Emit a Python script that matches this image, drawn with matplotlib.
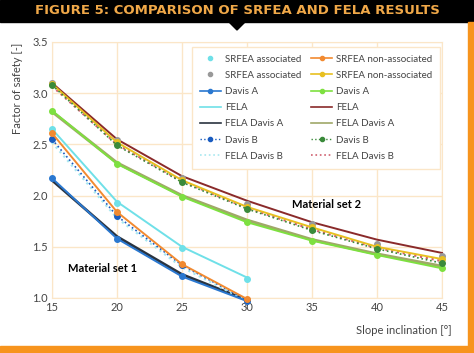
import matplotlib.pyplot as plt
from matplotlib.patches import Rectangle, Polygon
from matplotlib.lines import Line2D

plt.rcParams['font.family'] = ['Lato', 'DejaVu Sans']

# slope inclination [deg]
x1 = [15, 20, 25, 30]
x2 = [15, 20, 25, 30, 35, 40, 45]

# Material set 1
srfea_assoc_1 = [2.65, 1.93, 1.49, 1.19]
srfea_nonassoc_1 = [2.61, 1.84, 1.33, 0.99]
davisA_1 = [2.17, 1.58, 1.21, 0.97]
fela_1 = [2.65, 1.94, 1.50, 1.20]
fela_davisA_1 = [2.15, 1.60, 1.23, 0.98]
davisB_1 = [2.55, 1.80, 1.32, 0.98]
fela_davisB_1 = [2.52, 1.78, 1.30, 0.97]

# Material set 2
srfea_assoc_2 = [3.10, 2.54, 2.17, 1.92, 1.72, 1.53, 1.41]
srfea_nonassoc_2 = [3.09, 2.52, 2.15, 1.89, 1.69, 1.50, 1.38]
davisA_2 = [2.83, 2.31, 1.99, 1.74, 1.56, 1.42, 1.29]
fela_2 = [3.10, 2.55, 2.19, 1.95, 1.74, 1.57, 1.44]
fela_davisA_2 = [2.82, 2.32, 2.00, 1.76, 1.57, 1.43, 1.31]
davisB_2 = [3.08, 2.49, 2.13, 1.87, 1.66, 1.48, 1.34]
fela_davisB_2 = [3.07, 2.50, 2.14, 1.88, 1.67, 1.49, 1.36]

fig = plt.figure(figsize=(4.74, 3.53), dpi=100)
fig.patch.set_facecolor('white')

# header bar, triangle and orange frame
fig.patches.append(Rectangle((0, 1 - 22/353), 1, 22/353, transform=fig.transFigure,
                             color='black', zorder=0))
fig.patches.append(Polygon([(228/474, 1 - 21/353), (246/474, 1 - 21/353), (237/474, 1 - 30/353)],
                           closed=True, transform=fig.transFigure, color='black', zorder=0))
fig.patches.append(Rectangle((468/474, 0), 6/474, 1 - 22/353, transform=fig.transFigure,
                             color='#f7941d', zorder=0))
fig.patches.append(Rectangle((0, 0), 1, 7/353, transform=fig.transFigure,
                             color='#f7941d', zorder=0))
fig.text(237/474, 1 - 11/353, 'FIGURE 5: COMPARISON OF SRFEA AND FELA RESULTS',
         color='#f0a848', fontsize=9.5, fontweight='bold', ha='center', va='center',
         family=['DejaVu Sans'])

ax = fig.add_axes([52/474, 1 - 298/353, 390/474, 256/353])
ax.set_xlim(15, 45)
ax.set_ylim(1.0, 3.5)
ax.set_xticks(x2)
ax.set_yticks([1.0, 1.5, 2.0, 2.5, 3.0, 3.5])
ax.grid(True, color='#fbe6c8', lw=1)
for s in ax.spines.values():
    s.set_color('#fbe6c8')
ax.tick_params(length=0, labelsize=8, labelcolor='#444444', pad=3)

ms = 4
kw = dict(clip_on=False)
# set 1
ax.plot(x1, fela_davisA_1, color='#2a3440', lw=2.0, zorder=3, **kw)
ax.plot(x1, davisA_1, color='#2a78d0', lw=1.4, marker='o', ms=ms, zorder=4, **kw)
ax.plot(x1, fela_1, color='#6fe0e8', lw=1.4, zorder=3, **kw)
ax.plot(x1, srfea_assoc_1, color='#6fe0e8', lw=0, marker='o', ms=ms, zorder=4, **kw)
ax.plot(x1, fela_davisB_1, color='#a8e8f0', lw=1.6, ls=':', zorder=3, **kw)
ax.plot(x1, davisB_1, color='#1a5cc0', lw=1.2, ls=':', marker='o', ms=ms, zorder=4, **kw)
ax.plot(x1, srfea_nonassoc_1, color='#f28a30', lw=1.4, marker='o', ms=ms, zorder=4, **kw)
# set 2
ax.plot(x2, fela_davisA_2, color='#a0a868', lw=2.2, zorder=3, **kw)
ax.plot(x2, davisA_2, color='#7ee040', lw=1.4, marker='o', ms=ms, zorder=4, **kw)
ax.plot(x2, fela_2, color='#8a2a2a', lw=1.4, zorder=3, **kw)
ax.plot(x2, srfea_assoc_2, color='#999999', lw=0, marker='o', ms=ms, zorder=4, **kw)
ax.plot(x2, srfea_nonassoc_2, color='#e8c020', lw=1.4, marker='o', ms=ms, zorder=4, **kw)
ax.plot(x2, fela_davisB_2, color='#d06070', lw=1.6, ls=':', zorder=3, **kw)
ax.plot(x2, davisB_2, color='#3a8a3a', lw=1.2, ls=':', marker='o', ms=ms, zorder=4, **kw)

ax.text(16.2, 1.29, 'Material set 1', fontsize=8, fontweight='bold', va='center', zorder=6)
ax.text(33.5, 1.91, 'Material set 2', fontsize=8, fontweight='bold', va='center', zorder=6)

handles = [
    Line2D([], [], color='#6fe0e8', lw=0, marker='o', ms=3),
    Line2D([], [], color='#999999', lw=0, marker='o', ms=3),
    Line2D([], [], color='#2a78d0', lw=1.2, marker='o', ms=3),
    Line2D([], [], color='#6fe0e8', lw=1.2),
    Line2D([], [], color='#2a3440', lw=1.2),
    Line2D([], [], color='#1a5cc0', lw=1.0, ls=':', marker='o', ms=3),
    Line2D([], [], color='#a8e8f0', lw=1.2, ls=':'),
    Line2D([], [], color='#f28a30', lw=1.2, marker='o', ms=3),
    Line2D([], [], color='#e8c020', lw=1.2, marker='o', ms=3),
    Line2D([], [], color='#7ee040', lw=1.2, marker='o', ms=3),
    Line2D([], [], color='#8a2a2a', lw=1.2),
    Line2D([], [], color='#a0a868', lw=1.2),
    Line2D([], [], color='#3a8a3a', lw=1.0, ls=':', marker='o', ms=3),
    Line2D([], [], color='#d06070', lw=1.2, ls=':'),
]
labels = ['SRFEA associated', 'SRFEA associated', 'Davis A', 'FELA', 'FELA Davis A',
          'Davis B', 'FELA Davis B',
          'SRFEA non-associated', 'SRFEA non-associated', 'Davis A', 'FELA',
          'FELA Davis A', 'Davis B', 'FELA Davis B']
leg = ax.legend(handles, labels, ncol=2, fontsize=7, loc='upper right',
                bbox_to_anchor=(1.008, 1.0), frameon=True, fancybox=False,
                edgecolor='#fbe6c8', framealpha=1, handlelength=2.2,
                labelspacing=0.74, columnspacing=1.0, handletextpad=0.4,
                borderpad=0.8)
leg.get_frame().set_linewidth(1)
leg.set_zorder(5)
for t in leg.get_texts():
    t.set_color('#444444')

fig.text(18/474, 1 - 88/353, 'Factor of safety [-]', rotation=90, fontsize=8,
         color='#444444', ha='center', va='center')
fig.text(452/474, 1 - 330/353, 'Slope inclination [°]', fontsize=8,
         color='#444444', ha='right', va='center')

fig.savefig('out.png', dpi=100)
